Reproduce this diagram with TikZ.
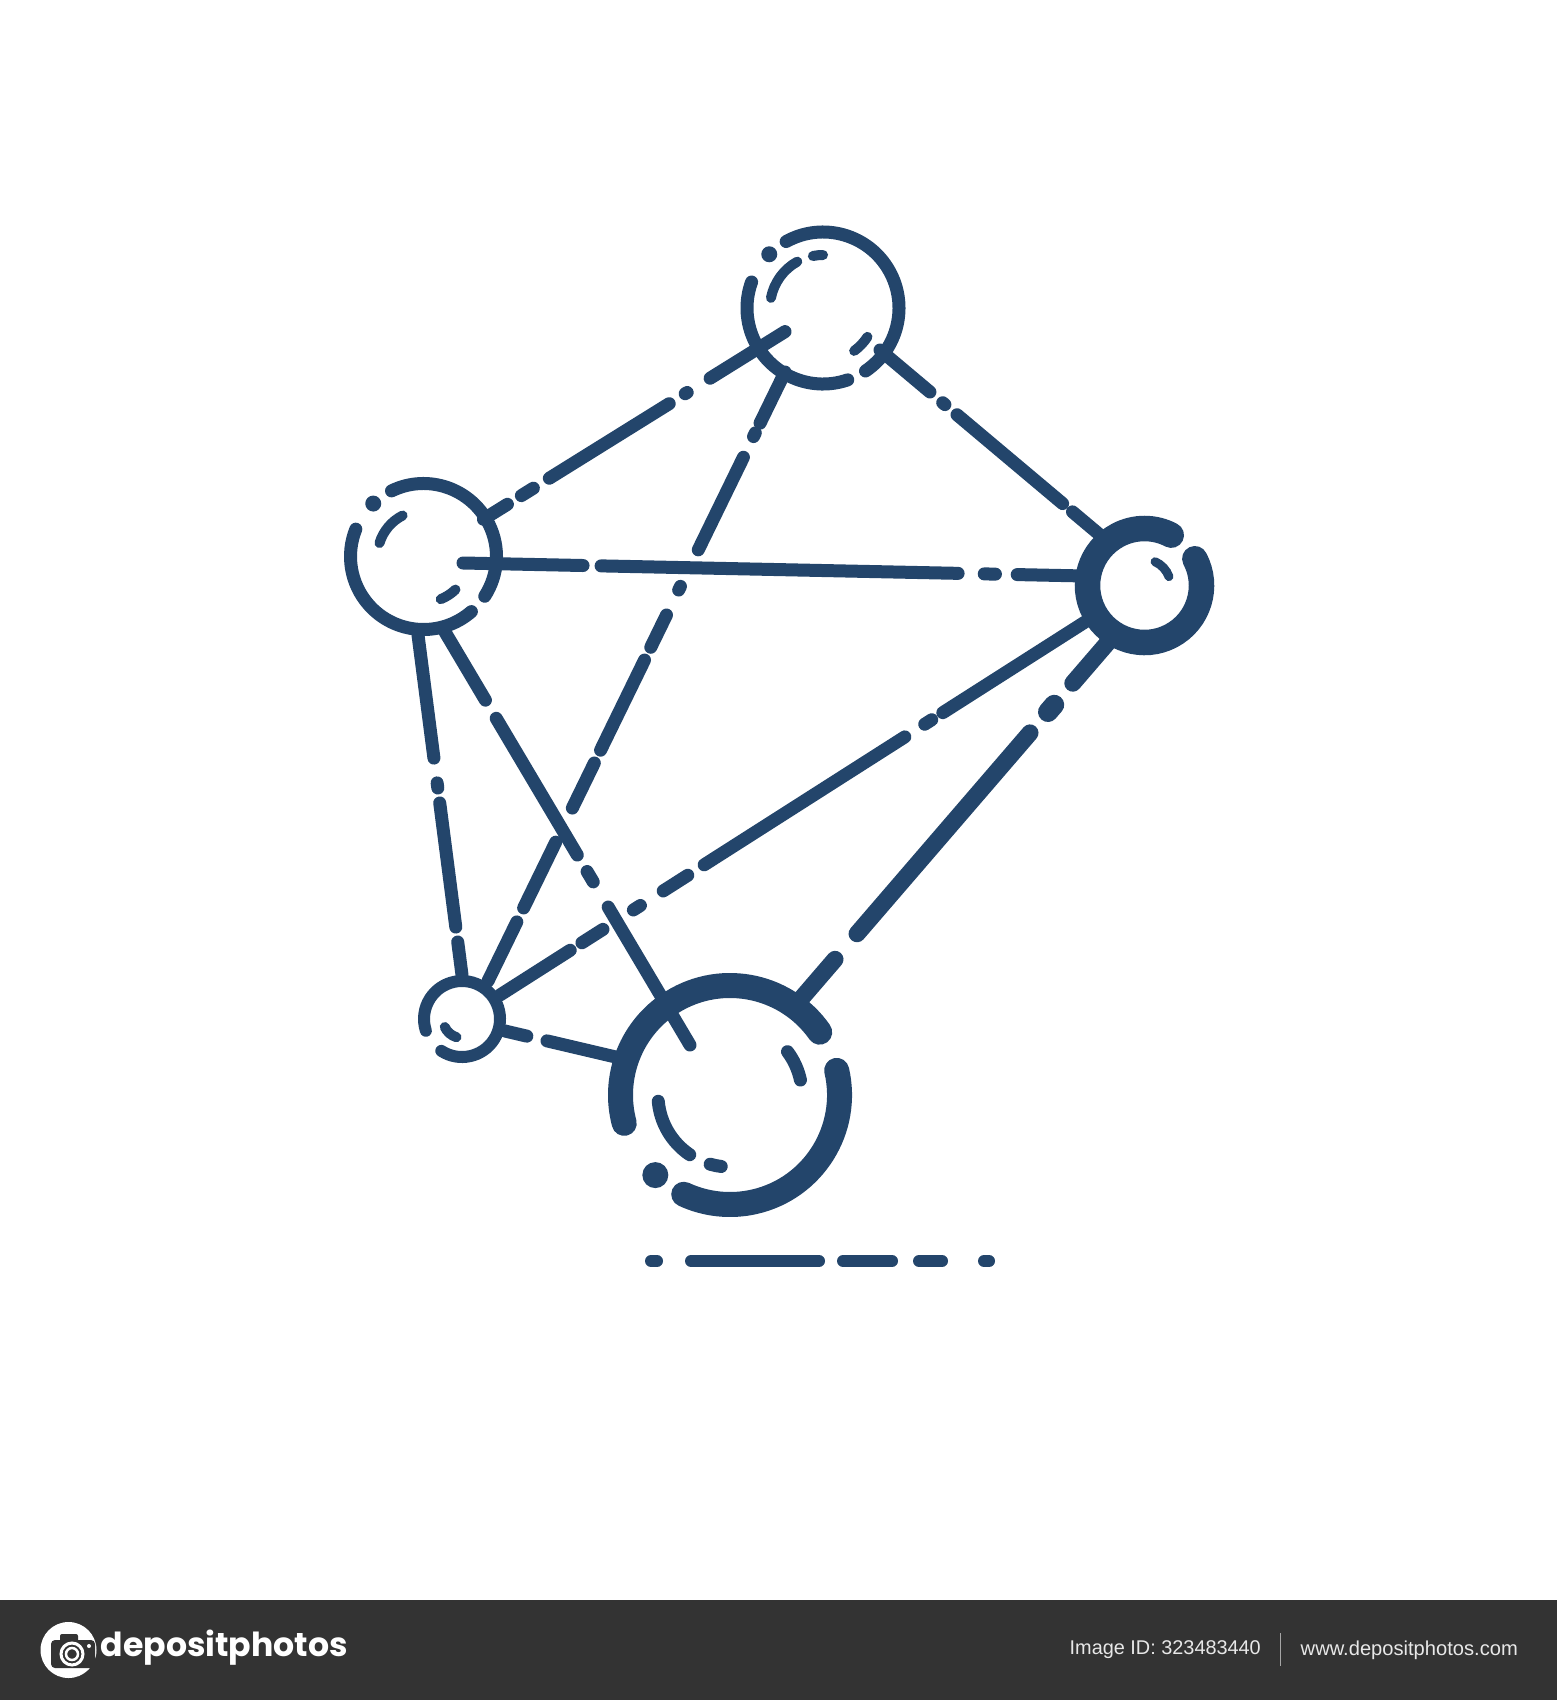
\documentclass[tikz,border=0pt]{standalone}
\usepackage{fontspec}
\setmainfont{Liberation Sans}
\newfontfamily\logofont{Poppins}
\usetikzlibrary{calc}
\definecolor{ink}{RGB}{35,69,107}
\definecolor{footer}{RGB}{51,51,51}
\definecolor{foottext}{RGB}{232,232,232}
\newdimen\pxu \pxu=0.01cm
\tikzset{
  ln/.style={draw=ink, line width=13\pxu, line cap=round},
  thickln/.style={draw=ink, line width=17\pxu, line cap=round},
  ringthin/.style={draw=ink, line width=13\pxu, line cap=round},
  ringthick/.style={draw=ink, line width=25\pxu, line cap=round},
  inner/.style={draw=ink, line width=10\pxu, line cap=round},
}
% segment of the line from #2 to #3, between fractions #4 and #5
\newcommand\seg[5][ln]{\draw[#1] ($(#2)!#4!(#3)$) -- ($(#2)!#5!(#3)$);}
% arc round centre #2, from angle #3 to angle #4 (counted anticlockwise, y up), radius #5
\newcommand\ringarc[5][ringthin]{\draw[#1] (#2) ++({-(#3)}:#5) arc[start angle={-(#3)}, end angle={-(#4)}, radius=#5];}
% dot on the ring round #2 at angle #3, distance #4, dot radius #5
\newcommand\ringdot[4]{\fill[ink] (#1) ++({-(#2)}:#3) circle[radius=#4];}
\begin{document}
\begin{tikzpicture}[x=0.01cm, y=-0.01cm]
\useasboundingbox (0,0) rectangle (1557,1700);
\fill[white] (0,0) rectangle (1557,1700);

% centres
\coordinate (A) at (823,308);
\coordinate (B) at (423.5,556.5);
\coordinate (C) at (1144.5,585.5);
\coordinate (D) at (462,1019);
\coordinate (E) at (730,1095);

% connector ends
\coordinate (adS) at (785,372);   \coordinate (adE) at (488,981);
\coordinate (acS) at (880,350);   \coordinate (acE) at (1100,535);
\coordinate (bcS) at (463,563);   \coordinate (bcE) at (1085,576);
\coordinate (bdS) at (418,635);   \coordinate (bdE) at (462,975);
\coordinate (beS) at (445,632);   \coordinate (beE) at (690,1045);
\coordinate (cdS) at (1085,622);  \coordinate (cdE) at (500,995);
\coordinate (ceS) at (1110,640);  \coordinate (ceE) at (800,1000);
\coordinate (deS) at (505,1031);  \coordinate (deE) at (620,1058);

% A -- B
\seg{A}{B}{0.095}{0.2825}
\seg{A}{B}{0.340}{0.345}
\seg{A}{B}{0.385}{0.685}
\seg{A}{B}{0.725}{0.755}
\seg{A}{B}{0.79}{0.85}
% A -- D
\seg{adS}{adE}{0}{0.084}
\seg{adS}{adE}{0.100}{0.106}
\seg{adS}{adE}{0.14}{0.292}
\seg{adS}{adE}{0.352}{0.358}
\seg{adS}{adE}{0.399}{0.452}
\seg{adS}{adE}{0.473}{0.621}
\seg{adS}{adE}{0.642}{0.716}
\seg{adS}{adE}{0.772}{0.880}
\seg{adS}{adE}{0.903}{1}
% A -- C
\seg{acS}{acE}{0}{0.227}
\seg{acS}{acE}{0.285}{0.295}
\seg{acS}{acE}{0.35}{0.83}
\seg{acS}{acE}{0.875}{1}
% B -- C
\seg{bcS}{bcE}{0}{0.193}
\seg{bcS}{bcE}{0.222}{0.796}
\seg{bcS}{bcE}{0.838}{0.856}
\seg{bcS}{bcE}{0.891}{1}
% B -- D
\seg{bdS}{bdE}{0}{0.362}
\seg{bdS}{bdE}{0.435}{0.45}
\seg{bdS}{bdE}{0.494}{0.859}
\seg{bdS}{bdE}{0.903}{1}
% B -- E
\seg{beS}{beE}{0}{0.165}
\seg{beS}{beE}{0.209}{0.540}
\seg{beS}{beE}{0.58}{0.605}
\seg{beS}{beE}{0.666}{1}
% C -- D
\seg{cdS}{cdE}{0}{0.243}
\seg{cdS}{cdE}{0.262}{0.274}
\seg{cdS}{cdE}{0.308}{0.651}
\seg{cdS}{cdE}{0.679}{0.721}
\seg{cdS}{cdE}{0.76}{0.772}
\seg{cdS}{cdE}{0.824}{0.860}
\seg{cdS}{cdE}{0.880}{1}
% C -- E
\seg[thickln]{ceS}{ceE}{0}{0.12}
\seg[thickln,line width=20\pxu]{ceS}{ceE}{0.18}{0.20}
\seg[thickln]{ceS}{ceE}{0.258}{0.816}
\seg[thickln]{ceS}{ceE}{0.887}{1}
% D -- E
\seg{deS}{deE}{0}{0.19}
\seg{deS}{deE}{0.365}{1}

% circle A
\ringarc{A}{119}{-56}{76}
\ringarc{A}{-71}{-200}{76}
\ringdot{A}{135}{76}{8}
\ringarc[inner]{A}{169}{119}{53}
\ringarc[inner]{A}{101}{90}{53}
\ringarc[inner]{A}{-54}{-33}{53}
% circle B
\ringarc{B}{116}{-33}{73}
\ringarc{B}{-49}{-202}{73}
\ringdot{B}{133.5}{73}{8}
\ringarc[inner]{B}{163}{117}{46}
\ringarc[inner]{B}{-68}{-46}{46}
% circle C
\ringarc[ringthick,line width=25.5\pxu]{C}{28}{-298}{57}
\ringarc[inner,line width=9\pxu]{C}{66}{20}{26}
% circle D
\ringarc[ringthin,line width=12\pxu]{D}{-123}{198}{38}
\ringarc[inner]{D}{-155}{-107}{19}
% circle E
\ringarc[ringthick]{E}{35}{195}{109.5}
\ringarc[ringthick]{E}{13}{-115}{109.5}
\ringdot{E}{-133}{109.5}{13}
\ringarc[inner,line width=13\pxu]{E}{185}{236}{72}
\ringarc[inner,line width=13\pxu]{E}{254}{263}{72}
\ringarc[inner,line width=13\pxu]{E}{37}{12}{72}

% dashed base line
\coordinate (bl1) at (651,1261); \coordinate (bl2) at (657,1261);
\coordinate (bl3) at (691,1261); \coordinate (bl4) at (819,1261);
\coordinate (bl5) at (843,1261); \coordinate (bl6) at (892,1261);
\coordinate (bl7) at (919,1261); \coordinate (bl8) at (942,1261);
\coordinate (bl9) at (984,1261); \coordinate (bl10) at (989,1261);
\draw[ln,line width=12\pxu] (bl1) -- (bl2);
\draw[ln,line width=12\pxu] (bl3) -- (bl4);
\draw[ln,line width=12\pxu] (bl5) -- (bl6);
\draw[ln,line width=12\pxu] (bl7) -- (bl8);
\draw[ln,line width=12\pxu] (bl9) -- (bl10);

% footer
\fill[footer] (0,1600) rectangle (1557,1700);
\coordinate (logo) at (68.5,1650);
\fill[white] (logo) circle[radius=28];
\fill[footer, rounded corners=4\pxu] (51,1640) rectangle (95,1668);
\fill[footer, rounded corners=2\pxu] (60,1634) rectangle (78,1643);
\draw[white, line width=3\pxu] (72,1654) circle[radius=11];
\draw[white, line width=2.5\pxu] (72,1654) circle[radius=6];
\fill[white] (89,1646) circle[radius=2];
\node[anchor=west, inner sep=0, text=white] (brand) at (100,1648)
  {\resizebox{2.47cm}{!}{\logofont\bfseries depositphotos}};
\node[anchor=west, inner sep=0, text=foottext] (imgid) at (1069,1650)
  {\resizebox{1.91cm}{!}{Image ID: 323483440}};
\coordinate (sepT) at (1280,1633); \coordinate (sepB) at (1280,1666);
\draw[gray!70, line width=1\pxu] (sepT) -- (sepB);
\node[anchor=west, inner sep=0, text=foottext] (site) at (1300,1650)
  {\resizebox{2.17cm}{!}{www.depositphotos.com}};
\end{tikzpicture}
\end{document}
